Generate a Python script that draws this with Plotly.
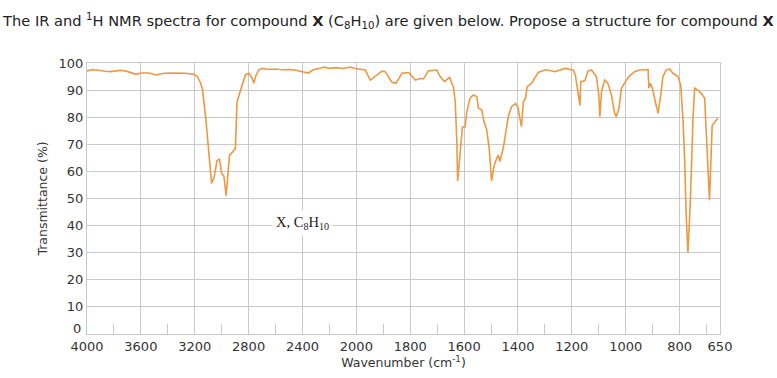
import plotly.graph_objects as go

# ---- data ----
wavenumber = [4000, 3970, 3931, 3880, 3832, 3795, 3750, 3709, 3670, 3635, 3600, 3574, 3537, 3488,
              3427, 3365, 3300, 3266, 3205, 3181, 3160, 3144, 3119, 3094, 3075, 3055, 3035, 3016,
              3001, 2984, 2967, 2954, 2942, 2917, 2898, 2886, 2861, 2840, 2824, 2799, 2775, 2762,
              2745, 2725, 2701, 2650, 2600, 2550, 2500, 2450, 2400, 2356, 2320, 2283, 2233, 2204,
              2150, 2100, 2044, 2007, 1967, 1948, 1930, 1905, 1893, 1868, 1853, 1831, 1806, 1781,
              1763, 1751, 1732, 1701, 1689, 1673, 1654, 1640, 1633, 1627, 1624, 1615, 1606, 1596,
              1590, 1578, 1566, 1553, 1547, 1535, 1526, 1516, 1507, 1498, 1488, 1479, 1473, 1467,
              1454, 1436, 1424, 1409, 1399, 1393, 1387, 1380, 1372, 1366, 1350, 1325, 1300, 1288,
              1263, 1226, 1195, 1187, 1179, 1170, 1167, 1152, 1140, 1127, 1109, 1100, 1096, 1090,
              1078, 1066, 1053, 1041, 1035, 1025, 1016, 1001, 989, 967, 948, 917, 914, 909, 901,
              890, 880, 870, 862, 850, 837, 825, 806, 796, 787, 781, 776, 769, 760, 750, 744, 732,
              720, 707, 698, 689, 679, 670, 658]
transmittance = [97, 97.5, 97.4, 97.2, 96.8, 97, 97.3, 97, 96.5, 95.8, 96.3, 96.2, 96.3, 95.6,
                 96.2, 96.3, 96.3, 96.2, 95.8, 95, 93, 90.6, 80, 66, 55.6, 58, 64, 64.5,
                 59.3, 58.4, 51, 58.7, 66, 67.3, 68.5, 85.7, 89.4, 93, 95.6, 96.2, 94.5, 92.5,
                 95.5, 97.4, 98, 97.6, 97.8, 97.5, 97.6, 97.3, 96.8, 96.3, 97.5, 98, 98.5, 98,
                 98.3, 98, 98.5, 98, 97.4, 93.7, 95, 97, 96.8, 92.9, 92.5, 96.2, 96.5, 93.7,
                 94.3, 94.1, 97.1, 97.4, 95, 93.1, 94.7, 91.2, 85.7, 71, 56.5, 66, 76.5, 76.5,
                 82, 87, 88.2, 87.6, 83.3, 82.7, 78.3, 75.3, 68.5, 56.5, 62.4, 64.8, 66, 63.6,
                 69, 80.2, 83.9, 85.1, 83.3, 79.6, 76.5, 85.7, 87, 91.3, 92.5, 96.5, 97.4, 97.4,
                 96.8, 98, 97.4, 95.6, 89.4, 84.3, 93.1, 93.4, 97, 97.4, 95, 88.2, 80.2, 89.4,
                 93.7, 92.5, 88.2, 81.4, 80.2, 83.3, 90.7, 93.1, 95, 96.8, 97.4, 97.6, 90.7, 92.5, 90.7,
                 85.7, 81.4, 88.2, 95, 97.4, 97.8, 96.2, 95, 91.9, 78.3, 63.6, 45, 30, 49, 80, 90.7, 90,
                 88.8, 87, 66, 49.4, 77, 78.3, 79.6]

major_ticks = [4000, 3600, 3200, 2800, 2400, 2000, 1800, 1600, 1400, 1200, 1000, 800, 650]
minor_ticks = [3800, 3400, 3000, 2600, 2200, 1900, 1700, 1500, 1300, 1100, 900, 700]
y_ticks = list(range(10, 101, 10))
y_zero_label = "0"

title_html = ("The IR and <sup>1</sup>H NMR spectra for compound <b>X</b> (C<sub>8</sub>H<sub>10</sub>) "
              "are given below. Propose a structure for compound <b>X</b>")
label_html = "X, C<sub>8</sub>H<sub>10</sub>"
label_pos = (2400, 41)


# IR charts use a scale change at 2000 cm-1 (twice as many cm-1 per unit above 2000)
def u(w):
    return (4000 - w) / 2.0 if w >= 2000 else 1000 + (2000 - w)


fig = go.Figure()
fig.add_trace(go.Scatter(
    x=[u(w) for w in wavenumber], y=transmittance, mode="lines",
    line=dict(color="#EA9A45", width=1.6), hoverinfo="skip", showlegend=False))

fig.add_annotation(
    x=u(label_pos[0]), y=label_pos[1], text=label_html, showarrow=False,
    font=dict(family="Liberation Serif", size=14.5, color="#222"),
    bgcolor="white", borderpad=3)

# "0" on the y axis sits a little above its gridline so it clears the 4000 label
fig.add_annotation(
    xref="paper", x=0, xanchor="right", xshift=-4, y=0, yshift=6, yanchor="middle",
    text=y_zero_label, showarrow=False,
    font=dict(family="DejaVu Sans", size=13, color="#333"))

grid = "#c9c9c9"
fig.update_layout(
    width=777, height=378,
    margin=dict(l=87, r=57, t=63, b=44),
    paper_bgcolor="white", plot_bgcolor="white",
    font=dict(family="DejaVu Sans", size=13, color="#333"),
    title=dict(text=title_html, x=0.004, xanchor="left", xref="container",
               y=1 - 21 / 378, yanchor="middle", yref="container",
               font=dict(family="DejaVu Sans", size=14.6, color="#222")),
    xaxis=dict(
        range=[0, u(650)],
        tickmode="array", tickvals=[u(w) for w in major_ticks],
        ticktext=[str(w) for w in major_ticks],
        showgrid=True, gridcolor=grid, gridwidth=1,
        ticks="", showline=True, linecolor=grid, mirror=True,
        zeroline=False,
        tickfont=dict(family="DejaVu Sans", size=13, color="#333"),
        minor=dict(tickmode="array", tickvals=[u(w) for w in minor_ticks],
                   ticks="inside", ticklen=10, tickcolor=grid, showgrid=False),
        title=dict(text="Wavenumber (cm<sup>-1</sup>)", standoff=2,
                   font=dict(family="DejaVu Sans", size=12.5, color="#333")),
    ),
    yaxis=dict(
        range=[0, 100], tickmode="array", tickvals=y_ticks,
        showgrid=True, gridcolor=grid, gridwidth=1,
        ticks="", showline=True, linecolor=grid, mirror=True,
        zeroline=False,
        tickfont=dict(family="DejaVu Sans", size=13, color="#333"),
        title=dict(text="Transmittance (%)", standoff=8,
                   font=dict(family="DejaVu Sans", size=12.5, color="#333")),
    ),
)

fig.write_html("out.html")
